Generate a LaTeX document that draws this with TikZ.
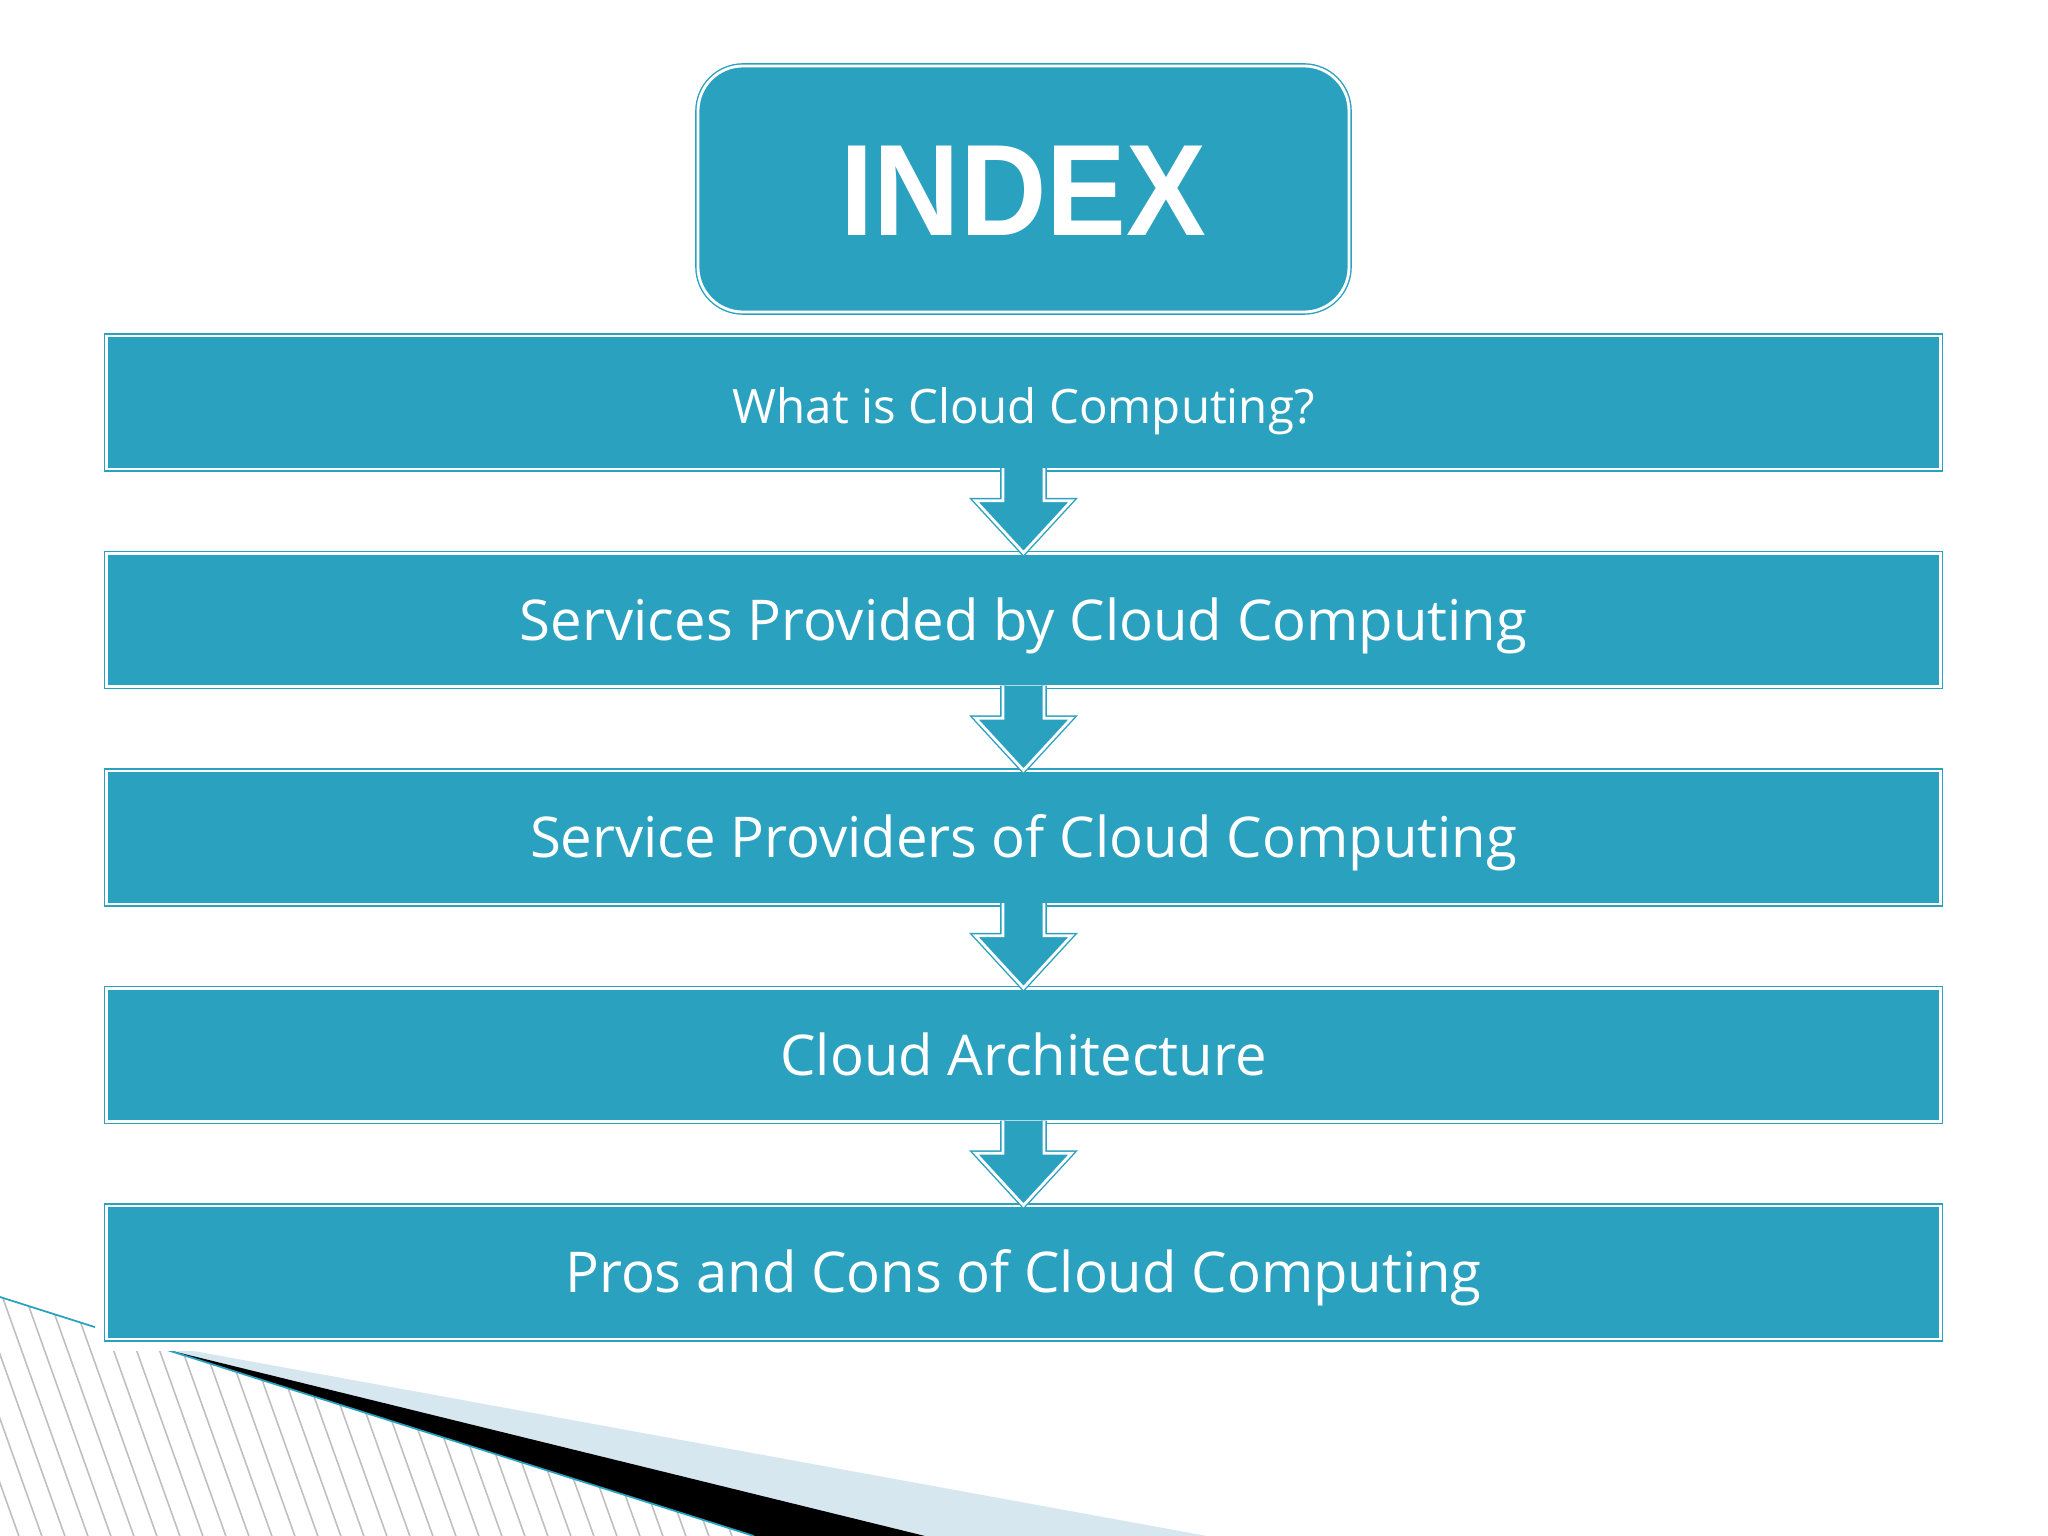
\documentclass[tikz,border=0pt]{standalone}
\usepackage{fontspec}
\setmainfont{Open Sans}
\newfontfamily\headfont{Liberation Sans}
\usetikzlibrary{calc,positioning,backgrounds}
\definecolor{boxblue}{HTML}{2BA1C0}
\definecolor{paleblue}{HTML}{D6E7F0}

\begin{document}
\begin{tikzpicture}[node distance=2.175cm,
    item/.style={rectangle,fill=boxblue,draw=boxblue,double=white,double distance=0.8pt,
      line width=0.4pt,minimum width=18.34cm,minimum height=1.33cm,inner sep=0pt,
      text=white,font=\fontsize{16}{18}\selectfont,text height=11.4pt,text depth=0pt},
    small/.style={font=\fontsize{13.5}{16}\selectfont,text height=12pt},
    head/.style={item,rounded corners=0.45cm,minimum width=6.51cm,minimum height=2.46cm,
      font=\headfont\bfseries\fontsize{37}{40}\selectfont,text height=26.6pt},
    down/.style={fill=boxblue,draw=boxblue,double=white,double distance=0.8pt,line width=0.4pt},
    hatch/.style={black!25,line width=0.45pt}]
    \useasboundingbox (0,0) rectangle (20.48,-15.36);

    \node[head] (I) at (10.235,-1.89) {\scalebox{0.92}[1]{INDEX}};
    \node[item,small] (A) [below of=I,node distance=2.135cm] {What is Cloud Computing?};
    \node[item] (B) [below of=A] {Services Provided by Cloud Computing};
    \node[item] (C) [below of=B] {Service Providers of Cloud Computing};
    \node[item] (D) [below of=C] {Cloud Architecture};
    \node[item] (E) [below of=D] {Pros and Cons of Cloud Computing};

    % block arrows between the boxes
    \foreach \a/\b in {A/B,B/C,C/D,D/E}
      \path[down] ($(\a.south)+(-0.205,0.015)$) -- ($(\a.south)+(-0.205,-0.31)$)
        -- ($(\a.south)+(-0.48,-0.31)$) -- (\b.north) -- ($(\a.south)+(0.48,-0.31)$)
        -- ($(\a.south)+(0.205,-0.31)$) -- ($(\a.south)+(0.205,0.015)$);

    % corner decoration
    \begin{scope}[on background layer]
      \fill[white] (0,0) rectangle (20.48,-15.36);
      \fill[paleblue] (1.39,-13.41) -- (12.07,-15.36) -- (7.54,-15.36) -- cycle;
      \fill[black] (1.64,-13.49) -- (9.25,-15.36) -- (7.54,-15.36) -- cycle;
      \begin{scope}
        \clip (0,-12.97) -- (7.54,-15.36) -- (0,-15.36) -- cycle;
        \foreach \k in {-5,...,34}
          \draw[hatch] (\k*0.23,-12.9) -- ++(0.9,-2.52);
      \end{scope}
      \draw[boxblue,line width=0.5pt] (0,-12.97) -- (7.54,-15.36);
      \fill[white] ($(E.south west)+(-0.11,-0.11)$) rectangle ($(E.north east)+(0.11,0.11)$);
    \end{scope}
\end{tikzpicture}
\end{document}
